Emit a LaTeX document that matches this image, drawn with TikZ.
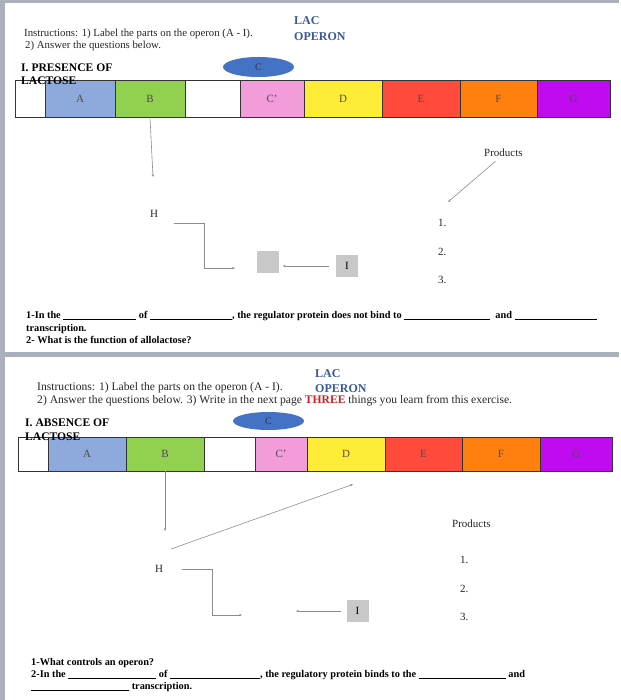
\documentclass[tikz,border=0pt]{standalone}
\usepackage{fontspec}
\setmainfont{Liberation Serif}
\usetikzlibrary{arrows.meta,shapes.geometric}
\definecolor{frame}{RGB}{169,175,187}
\definecolor{lacblue}{RGB}{59,89,152}
\definecolor{repblue}{RGB}{68,114,196}
\definecolor{segA}{RGB}{142,169,219}
\definecolor{segB}{RGB}{146,208,80}
\definecolor{segC}{RGB}{242,157,218}
\definecolor{segD}{RGB}{255,236,55}
\definecolor{segE}{RGB}{255,74,60}
\definecolor{segF}{RGB}{255,128,14}
\definecolor{segG}{RGB}{192,10,240}
\definecolor{threered}{RGB}{208,30,40}
\definecolor{boxgray}{RGB}{200,200,200}
\newcommand{\qblank}[1]{\rule[-1.5pt]{#1pt}{0.6pt}}
\tikzstyle{seg}=[draw=black!80,line width=0.7pt,inner sep=0pt,minimum height=37pt,text=black!70,font=\fontsize{11}{13}\selectfont]
\tikzstyle{ellip}=[ellipse,fill=repblue,inner sep=0pt,minimum width=71pt,minimum height=20pt,text=black!80,font=\fontsize{10}{12}\selectfont]
\tikzstyle{gbox}=[fill=boxgray,inner sep=0pt,minimum size=22pt,font=\fontsize{11}{13}\selectfont]
\tikzstyle{arr}=[draw=black!45,line width=0.6pt,-{Stealth[length=3pt,width=2.4pt]}]
\tikzstyle{title}=[anchor=base west,inner sep=0pt,text=lacblue,font=\bfseries\fontsize{12}{14}\selectfont]
\tikzstyle{head}=[anchor=base west,inner sep=0pt,font=\bfseries\fontsize{11.6}{14}\selectfont]
\tikzstyle{instr}=[anchor=base west,inner sep=0pt,text=black!85,font=\fontsize{10.8}{13}\selectfont]
\tikzstyle{num}=[anchor=base west,inner sep=0pt,text=black!85,font=\fontsize{11}{13}\selectfont]
\tikzstyle{quest}=[anchor=base west,inner sep=0pt,font=\bfseries\fontsize{10.3}{12}\selectfont]

\begin{document}
\begin{tikzpicture}[x=1pt,y=-1pt]
			\useasboundingbox (0,0) rectangle (620,700);
			\fill[frame] (0,0) rectangle (619,3);
			\fill[frame] (0,0) rectangle (5,700);
			\fill[frame] (0,352) rectangle (619,357);

			% presence of lactose
			\node[title] (lac1) at (294,25) {LAC};
			\node[title] (op1) at (294,41) {OPERON};
			\node[instr] (in1a) at (24,37) {Instructions: 1) Label the parts on the operon (A - I).};
			\node[instr] (in1b) at (25,49) {2) Answer the questions below.};
			\node[head] (pres1) at (21,72) {I. PRESENCE OF};
			\node[ellip] (rep1) at (258.5,67) {C};

			\node[seg,fill=white,minimum width=30pt] (w11) at (30,98.5) {};
			\node[seg,fill=segA,minimum width=70pt] (A1) at (80,98.5) {A};
			\node[seg,fill=segB,minimum width=70pt] (B1) at (150,98.5) {B};
			\node[seg,fill=white,minimum width=55pt] (w21) at (212.5,98.5) {};
			\node[seg,fill=segC,minimum width=64pt] (C1) at (272,98.5) {C'};
			\node[seg,fill=segD,minimum width=78pt] (D1) at (343,98.5) {D};
			\node[seg,fill=segE,minimum width=78pt] (E1) at (421,98.5) {E};
			\node[seg,fill=segF,minimum width=77pt] (F1) at (498.5,98.5) {F};
			\node[seg,fill=segG,minimum width=73pt] (G1) at (573.5,98.5) {G};
			\node[head] (lact1) at (21,85) {LACTOSE};

			\node[num] (H1) at (150,218) {H};
			\node[gbox] (sq1) at (267.5,262) {};
			\node[gbox] (I1) at (347,266) {I};
			\node[num] (prod1) at (484,157) {Products};
			\node[num] (n11) at (438,227) {1.};
			\node[num] (n21) at (438,255) {2.};
			\node[num] (n31) at (438,283) {3.};
			\coordinate (hB1) at (153,177);
			\coordinate (el1) at (174,223);
			\coordinate (elend1) at (235,268);
			\coordinate (pend1) at (448,202);

			\draw[arr] (B1.south) -- (hB1);
			\draw[arr] (el1) -- (204,223) -- (204,268) -- (elend1);
			\draw[arr] ([xshift=-7pt]I1.west) -- ([xshift=4pt,yshift=-4pt]sq1.east);
			\draw[arr] ([xshift=-8pt,yshift=-4pt]prod1.south) -- (pend1);

			\node[quest] (q11) at (26,318) {1-In the \qblank{73} of \qblank{82}, the regulator protein does not bind to \qblank{86} \ and \qblank{82}};
			\node[quest] (q12) at (26,331) {transcription.};
			\node[quest] (q21) at (26,343) {2- What is the function of allolactose?};

			% absence of lactose
			\node[title] (lac2) at (315,377) {LAC};
			\node[title] (op2) at (315,392) {OPERON};
			\node[instr,font=\fontsize{11.6}{14}\selectfont] (in2a) at (37,390) {Instructions: 1) Label the parts on the operon (A - I).};
			\node[instr,font=\fontsize{11.6}{14}\selectfont] (in2b) at (37,403) {2) Answer the questions below. 3) Write in the next page \textcolor{threered}{\textbf{THREE}} things you learn from this exercise.};
			\node[head] (abs2) at (25,426) {I. ABSENCE OF};
			\node[ellip,minimum height=18pt] (rep2) at (268.5,421) {C};

			\node[seg,fill=white,minimum width=30pt,minimum height=34pt] (w12) at (33,454) {};
			\node[seg,fill=segA,minimum width=78pt,minimum height=34pt] (A2) at (87,454) {A};
			\node[seg,fill=segB,minimum width=78pt,minimum height=34pt] (B2) at (165,454) {B};
			\node[seg,fill=white,minimum width=51pt,minimum height=34pt] (w22) at (229.5,454) {};
			\node[seg,fill=segC,minimum width=52pt,minimum height=34pt] (C2) at (281,454) {C'};
			\node[seg,fill=segD,minimum width=78pt,minimum height=34pt] (D2) at (346,454) {D};
			\node[seg,fill=segE,minimum width=77pt,minimum height=34pt] (E2) at (423.5,454) {E};
			\node[seg,fill=segF,minimum width=78pt,minimum height=34pt] (F2) at (501,454) {F};
			\node[seg,fill=segG,minimum width=72pt,minimum height=34pt] (G2) at (576,454) {G};
			\node[head] (lact2) at (25,440) {LACTOSE};

			\node[num] (H2) at (155,572) {H};
			\node[gbox] (I2) at (357.5,611) {I};
			\node[num] (prod2) at (452,527) {Products};
			\node[num] (n12) at (460,563) {1.};
			\node[num] (n22) at (460,592) {2.};
			\node[num] (n32) at (460,620) {3.};
			\coordinate (hB2) at (165,531);
			\coordinate (la2) at (171,549);
			\coordinate (el2) at (182,569);
			\coordinate (elend2) at (242,615);
			\coordinate (iend2) at (296,611);

			\draw[arr] (B2.south) -- (hB2);
			\draw[arr] (la2) -- ([xshift=7pt,yshift=-13pt]D2.south);
			\draw[arr] (el2) -- (212,569) -- (212,615) -- (elend2);
			\draw[arr] ([xshift=-5pt]I2.west) -- (iend2);

			\node[quest] (q12b) at (31,665) {1-What controls an operon?};
			\node[quest] (q22) at (31,677) {2-In the \qblank{88} of \qblank{90}, the regulatory protein binds to the \qblank{87} and};
			\node[quest] (q23) at (31,689) {\qblank{98} transcription.};
		\end{tikzpicture}
\end{document}
